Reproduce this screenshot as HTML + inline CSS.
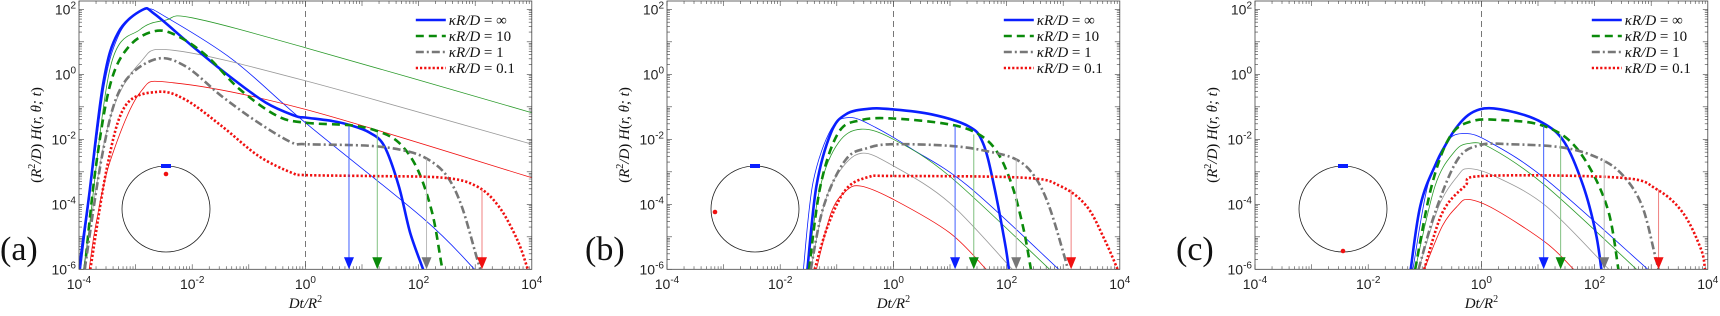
<!DOCTYPE html>
<html><head><meta charset="utf-8">
<style>
html,body{margin:0;padding:0;background:#fff;}
svg{display:block;}
.tk{font-family:"Liberation Sans",sans-serif;font-size:14px;fill:#222;}
.sup{font-size:10px;}
.it{font-family:"Liberation Serif",serif;font-style:italic;font-size:15px;fill:#111;}
.pl{font-family:"Liberation Serif",serif;font-size:34px;fill:#111;}
</style></head>
<body>
<svg id="s" width="1720" height="316" xmlns="http://www.w3.org/2000/svg"></svg>
<script>
const S=document.getElementById('s');
const NS='http://www.w3.org/2000/svg';
function el(t,a,txt){const e=document.createElementNS(NS,t);for(const k in a)e.setAttribute(k,a[k]);if(txt!==undefined)e.textContent=txt;S.appendChild(e);return e;}
const TOP=1,BOT=269.3,DEC=32.5,XD=56.6;
function Y(l){return BOT-(l+6)*DEC;}
function path(pts,X){ // catmull-rom
  const P=pts.map(p=>[X(p[0]),Math.min(Y(p[1]),BOT+2)]);
  let d='M'+P[0][0].toFixed(1)+','+P[0][1].toFixed(1);
  for(let i=0;i<P.length-1;i++){
    const p0=P[Math.max(0,i-1)],p1=P[i],p2=P[i+1],p3=P[Math.min(P.length-1,i+2)];
    const c1=[p1[0]+(p2[0]-p0[0])/6,p1[1]+(p2[1]-p0[1])/6];
    const c2=[p2[0]-(p3[0]-p1[0])/6,p2[1]-(p3[1]-p1[1])/6];
    d+='C'+c1[0].toFixed(1)+','+c1[1].toFixed(1)+' '+c2[0].toFixed(1)+','+c2[1].toFixed(1)+' '+p2[0].toFixed(1)+','+p2[1].toFixed(1);
  }
  return d;
}
const BL='#0a1fff',GR='#0a8a0a',GY='#777',RD='#f01010';
const styles={
 bT:{stroke:BL,'stroke-width':2.6},
 bt:{stroke:BL,'stroke-width':0.8},
 gT:{stroke:GR,'stroke-width':2.6,'stroke-dasharray':'8 5'},
 gt:{stroke:'#2a9a2a','stroke-width':0.8},
 yT:{stroke:GY,'stroke-width':2.6,'stroke-dasharray':'8 3 2 3'},
 yt:{stroke:'#999','stroke-width':0.8},
 rT:{stroke:RD,'stroke-width':2.6,'stroke-dasharray':'2.2 2'},
 rt:{stroke:RD,'stroke-width':0.8}
};
const panels=[
 {L:79,lab:'(a)',labx:0,cx:166,dot:[166,174],
  c:{
  bt:[[-3.97,-6],[-3.8,-3.6],[-3.55,-0.3],[-3.3,1.2],[-3.0,1.85],[-2.79,2.02],[-2.5,1.8],[-1.29,0.46],[0,-1.49],[2.1,-4.46],[2.99,-6]],
  gt:[[-3.92,-6],[-3.83,-4.87],[-3.44,0.26],[-2.92,1.38],[-2.46,1.67],[-2.0,1.74],[0,0.82],[4,-1.18]],
  yt:[[-3.9,-6],[-3.8,-4.6],[-3.44,-1.28],[-2.92,0.36],[-2.33,0.74],[0,-0.2],[4,-2.15]],
  rt:[[-3.82,-6],[-3.7,-4.6],[-3.44,-2.62],[-2.92,-0.56],[-2.33,-0.26],[0,-1.08],[4,-3.18]],
  bT:[[-4.0,-6],[-3.83,-3.85],[-3.57,-0.26],[-3.31,1.28],[-2.88,1.98],[-2.66,1.85],[-2.0,0.87],[-1.35,-0.05],[-0.7,-0.87],[-0.18,-1.28],[0,-1.33],[0.48,-1.44],[0.8,-1.57],[1.13,-1.79],[1.39,-2.2],[1.65,-3.44],[1.85,-4.87],[2.08,-6]],
  gT:[[-3.9,-6],[-3.7,-2.82],[-3.44,-0.26],[-3.11,0.87],[-2.66,1.33],[-2.26,1.18],[-1.74,0.56],[-1.16,-0.46],[-0.5,-1.28],[0,-1.49],[0.8,-1.57],[1.26,-1.74],[1.65,-2.1],[1.98,-2.92],[2.24,-4.26],[2.4,-5.8],[2.42,-6]],
  yT:[[-3.9,-6],[-3.57,-2.31],[-3.24,-0.36],[-2.66,0.46],[-2.13,0.26],[-1.48,-0.67],[-0.83,-1.49],[-0.24,-2.1],[0,-2.15],[1.13,-2.2],[1.78,-2.36],[2.17,-2.62],[2.5,-3.13],[2.76,-4.05],[3.02,-5.59],[3.09,-6]],
  rT:[[-3.8,-6],[-3.5,-2.82],[-3.18,-0.97],[-2.62,-0.54],[-2.13,-0.77],[-1.48,-1.59],[-0.83,-2.51],[-0.24,-3.03],[0,-3.1],[1.13,-3.13],[2.43,-3.18],[3.02,-3.44],[3.41,-4.05],[3.74,-5.08],[3.93,-6]]},
  ar:[[0.77,-1.59],[1.27,-1.8],[2.14,-2.6],[3.12,-3.54]]},
 {L:667,lab:'(b)',labx:585,cx:755,dot:[715,212],
  c:{
  bt:[[-1.59,-6],[-1.42,-3.33],[-1.1,-1.69],[-0.77,-1.33],[-0.31,-1.64],[0.34,-2.31],[1.32,-3.44],[2.92,-6]],
  gt:[[-1.52,-6],[-1.29,-3.44],[-0.97,-2.1],[-0.57,-1.69],[0,-2.0],[0.99,-3.13],[2.76,-6]],
  yt:[[-1.46,-6],[-1.23,-4.05],[-0.97,-3.03],[-0.57,-2.43],[0,-2.82],[0.99,-3.95],[2.1,-6]],
  rt:[[-1.36,-6],[-1.1,-4.26],[-0.84,-3.59],[-0.57,-3.44],[0,-3.85],[0.99,-4.87],[1.64,-6]],
  bT:[[-1.52,-6],[-1.36,-3.44],[-1.1,-1.79],[-0.84,-1.23],[-0.44,-1.06],[0,-1.08],[0.67,-1.23],[1.32,-1.59],[1.58,-2.1],[1.78,-3.44],[1.97,-5.18],[2.04,-6]],
  gT:[[-1.49,-6],[-1.29,-3.44],[-0.97,-1.79],[-0.57,-1.41],[0,-1.36],[0.99,-1.54],[1.51,-1.85],[1.84,-2.41],[2.1,-3.44],[2.3,-4.77],[2.43,-6]],
  yT:[[-1.46,-6],[-1.23,-4.05],[-0.84,-2.62],[-0.44,-2.26],[0,-2.15],[0.99,-2.2],[1.64,-2.36],[2.17,-2.62],[2.49,-3.13],[2.75,-4.05],[3.02,-5.59],[3.08,-6]],
  rT:[[-1.39,-6],[-1.16,-4.67],[-0.84,-3.54],[-0.44,-3.16],[0,-3.13],[2.3,-3.18],[2.95,-3.44],[3.41,-4.05],[3.73,-5.08],[3.96,-6]]},
  ar:[[1.09,-1.59],[1.42,-1.85],[2.17,-2.62],[3.14,-3.54]]},
 {L:1255,lab:'(c)',labx:1176,cx:1343,dot:[1343,251],
  c:{
  bt:[[-1.21,-6],[-0.95,-3.44],[-0.62,-2.1],[-0.29,-1.82],[0.16,-2.1],[1.14,-3.23],[2.94,-6]],
  gt:[[-1.17,-6],[-0.82,-3.44],[-0.49,-2.41],[-0.23,-2.13],[0.16,-2.26],[1.14,-3.44],[2.74,-6]],
  yt:[[-1.11,-6],[-0.75,-4.05],[-0.42,-3.13],[-0.23,-2.9],[0.23,-3.13],[1.14,-4.05],[2.25,-6]],
  rt:[[-1.01,-6],[-0.69,-4.67],[-0.42,-4.05],[-0.23,-3.85],[0.23,-4.15],[1.14,-5.18],[1.63,-6]],
  bT:[[-1.25,-6],[-1.08,-4.05],[-0.82,-2.82],[-0.42,-1.59],[-0.03,-1.08],[0.49,-1.13],[1.08,-1.49],[1.47,-2.1],[1.8,-3.44],[2.02,-4.87],[2.12,-6]],
  gT:[[-1.17,-6],[-0.88,-3.44],[-0.55,-1.9],[-0.16,-1.44],[0.36,-1.41],[1.01,-1.54],[1.53,-2.0],[1.93,-2.92],[2.25,-4.26],[2.42,-6]],
  yT:[[-1.11,-6],[-0.82,-4.26],[-0.42,-2.62],[-0.03,-2.18],[0.49,-2.15],[1.47,-2.26],[2.12,-2.62],[2.51,-3.13],[2.84,-4.05],[3.07,-5.59],[3.13,-6]],
  rT:[[-1.01,-6],[-0.69,-4.26],[-0.29,-3.44],[0.03,-3.13],[2.45,-3.18],[3.1,-3.54],[3.56,-4.26],[3.88,-5.38],[3.95,-6]]},
  ar:[[1.1,-1.59],[1.4,-1.85],[2.17,-2.62],[3.13,-3.54]]}
];
const arCol=[BL,GR,GY,RD],arLine=['#4060ff','#80c080','#bbb','#f08080'];
for(const p of panels){
  const L=p.L,R=L+8*XD;
  const X=l=>L+(l+4)*XD;
  const cid='c'+L;
  const cp=el('clipPath',{id:cid});
  const rr=document.createElementNS(NS,'rect');rr.setAttribute('x',L);rr.setAttribute('y',TOP);rr.setAttribute('width',R-L);rr.setAttribute('height',BOT-TOP);cp.appendChild(rr);
  // ticks
  let t='';
  for(let d=-4;d<4;d++)for(let m=1;m<10;m++){const x=X(d+Math.log10(m));const len=m==1?5:3;t+=`M${x},${BOT}v-${len}M${x},${TOP}v${len}`;}
  for(let d=-6;d<3;d++)for(let m=1;m<10;m++){const lv=d+Math.log10(m);if(lv>2.28)continue;const y=Y(lv);const len=m==1?5:3;t+=`M${L},${y}h${len}M${R},${y}h-${len}`;}
  el('path',{d:t,stroke:'#444','stroke-width':0.6,fill:'none'});
  el('line',{x1:X(0),x2:X(0),y1:TOP,y2:BOT,stroke:'#555','stroke-width':0.8,'stroke-dasharray':'6 4'});
  // inset circle
  el('ellipse',{cx:p.cx,cy:209,rx:44,ry:43,fill:'none',stroke:'#222','stroke-width':0.8});
  el('rect',{x:p.cx-5,y:164,width:10,height:4,fill:BL});
  el('circle',{cx:p.dot[0],cy:p.dot[1],r:2.3,fill:RD});
  const g=el('g',{'clip-path':`url(#${cid})`});
  for(const k of ['bt','gt','yt','rt','bT','gT','yT','rT']){
    const e=document.createElementNS(NS,'path');e.setAttribute('d',path(p.c[k],X));e.setAttribute('fill','none');
    for(const a in styles[k])e.setAttribute(a,styles[k][a]);g.appendChild(e);
  }
  p.ar.forEach((a,i)=>{const x=X(a[0]);
    el('line',{x1:x,x2:x,y1:Y(a[1]),y2:BOT-10,stroke:arLine[i],'stroke-width':1});
    el('path',{d:`M${x-5},${BOT-12}h10l-5,12z`,fill:arCol[i]});});
  el('rect',{x:L,y:TOP,width:R-L,height:BOT-TOP,fill:'none',stroke:'#444','stroke-width':0.8});
  // x tick labels
  for(const d of [-4,-2,0,2,4]){const tx=el('text',{x:X(d),y:289,class:'tk','text-anchor':'middle'});
    tx.innerHTML=`10<tspan class="sup" dy="-6">${d<0?'-'+(-d):d}</tspan>`;}
  for(const d of [-6,-4,-2,0,2]){const tx=el('text',{x:L-3,y:Y(d)+5,class:'tk','text-anchor':'end'});
    tx.innerHTML=`10<tspan class="sup" dy="-6">${d<0?'-'+(-d):d}</tspan>`;}
  const xl=el('text',{x:(L+R)/2,y:308,class:'it','text-anchor':'middle'});xl.innerHTML='Dt/R<tspan class="sup" dy="-6" style="font-style:normal">2</tspan>';
  const yl=el('text',{x:0,y:0,class:'it','text-anchor':'middle',transform:`translate(${L-38},135) rotate(-90)`});
  yl.innerHTML='<tspan style="font-style:normal">(</tspan>R<tspan class="sup" dy="-6" style="font-style:normal">2</tspan><tspan dy="6">/D</tspan><tspan style="font-style:normal">)</tspan> H<tspan style="font-style:normal">(</tspan>r, θ; t<tspan style="font-style:normal">)</tspan>';
  el('text',{x:p.labx,y:260,class:'pl'},p.lab);
  // legend
  const labs=['∞','10','1','0.1'],ks=['bT','gT','yT','rT'],ys=[20,36,52,68];
  ks.forEach((k,i)=>{const a={x1:R-116,x2:R-86,y1:ys[i],y2:ys[i],fill:'none'};Object.assign(a,styles[k]);a['stroke-width']=2.4;el('line',a);
    const tx=el('text',{x:R-83,y:ys[i]+5,class:'it'});tx.innerHTML=`κR/D<tspan style="font-style:normal"> = ${labs[i]}</tspan>`;});
}
</script>
</body></html>
